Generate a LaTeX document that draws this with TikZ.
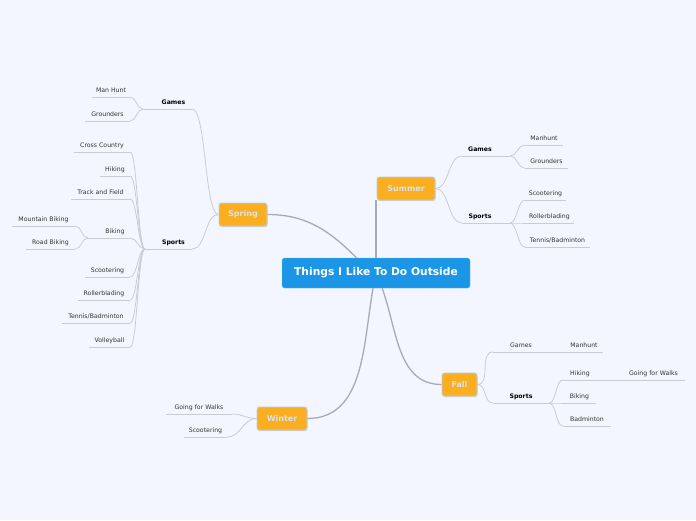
\documentclass[tikz,border=0pt]{standalone}
\usepackage{fontspec}
\setmainfont{DejaVu Sans}
\usepackage{xcolor}
\definecolor{mmback}{RGB}{243,246,254}
\definecolor{mmblue}{RGB}{27,150,230}
\definecolor{mmblueline}{RGB}{110,185,240}
\definecolor{mmorange}{RGB}{250,174,32}
\definecolor{mmorangetext}{RGB}{214,228,240}
\definecolor{mmorangeline}{RGB}{184,208,228}
\definecolor{mmline}{RGB}{200,204,213}
\definecolor{mmtrunk}{RGB}{168,171,178}
\definecolor{mmtext}{RGB}{51,51,51}
\usetikzlibrary{positioning,shadows}

\tikzset{
  centre/.style={draw=mmblueline, fill=mmblue, rounded corners=2.5pt, minimum width=188pt, minimum height=30pt, inner sep=0pt, font=\fontsize{10.7}{12}\selectfont\bfseries, text=white},
  season/.style={draw=mmorangeline, line width=0.9pt, fill=mmorange, rounded corners=2.5pt, minimum height=23pt, inner sep=0pt, font=\fontsize{8}{9}\selectfont\bfseries, text=mmorangetext, drop shadow={shadow xshift=0.5pt, shadow yshift=-1.2pt, opacity=0.3}},
  leaf/.style={anchor=south, inner xsep=0pt, inner ysep=3pt, text height=4.6pt, text depth=1.3pt, font=\fontsize{6.2}{7}\selectfont, text=mmtext},
  topic/.style={leaf, font=\fontsize{6.2}{7}\selectfont\bfseries, text=black},
  trunk/.style={draw=mmtrunk, line width=1.3pt},
  twig/.style={draw=mmline, line width=0.8pt},
  lft/.style={out=180, in=0, max distance=#1}, lft/.default=14pt,
  rgt/.style={out=0, in=180, max distance=#1}, rgt/.default=14pt,
}

\begin{document}
\begin{tikzpicture}[x=1pt, y=-1pt]
  \fill[mmback] (0,0) rectangle (696,520);
  \useasboundingbox (0,0) rectangle (696,520);

  %% Central topic
  \node[centre] (centre) at (376,273) {Things I Like To Do Outside};

  %% Spring
  \node[season, minimum width=48pt] (spring) at (243,214.5) {Spring};
  \node[topic, minimum width=37pt] (springgames) at (173.5,109) {Games};
  \node[topic, minimum width=37pt] (springsports) at (173.5,249) {Sports};
  \coordinate (springgameshub) at (143,109);
  \coordinate (springsportshub) at (145,249);
  \node[leaf, minimum width=38pt] (manhunta) at (111,97) {Man Hunt};
  \node[leaf, minimum width=45pt] (groundersa) at (107.5,121) {Grounders};
  \node[leaf, minimum width=56pt] (crosscountry) at (102,152) {Cross Country};
  \node[leaf, minimum width=30pt] (hikinga) at (115,176) {Hiking};
  \node[leaf, minimum width=59pt] (trackfield) at (100.5,199) {Track and Field};
  \node[leaf, minimum width=30pt] (bikinga) at (115,238) {Biking};
  \coordinate (bikinghub) at (88,238);
  \node[leaf, minimum width=63pt] (mountainbiking) at (43.5,226) {Mountain Biking};
  \node[leaf, minimum width=49pt] (roadbiking) at (50.5,249) {Road Biking};
  \node[leaf, minimum width=45pt] (scooteringa) at (107.5,277) {Scootering};
  \node[leaf, minimum width=52pt] (rollerbladinga) at (104,300) {Rollerblading};
  \node[leaf, minimum width=68pt] (tennisa) at (96,323) {Tennis/Badminton};
  \node[leaf, minimum width=41pt] (volleyball) at (109.5,347) {Volleyball};

  %% Summer
  \node[season, minimum width=58pt] (summer) at (406,188.5) {Summer};
  \node[topic, minimum width=36pt] (summergames) at (480,156) {Games};
  \node[topic, minimum width=36pt] (summersports) at (480,223) {Sports};
  \coordinate (summergameshub) at (510,156);
  \coordinate (summersportshub) at (510,223);
  \node[leaf, minimum width=38pt] (manhuntb) at (544,145) {Manhunt};
  \node[leaf, minimum width=43pt] (groundersb) at (546.5,168) {Grounders};
  \node[leaf, minimum width=41pt] (scooteringb) at (545.5,200) {Scootering};
  \node[leaf, minimum width=49pt] (rollerbladingb) at (549.5,223) {Rollerblading};
  \node[leaf, minimum width=65pt] (tennisb) at (557.5,247) {Tennis/Badminton};

  %% Fall
  \node[season, minimum width=35pt] (fall) at (459.5,384.5) {Fall};
  \node[leaf, minimum width=56pt] (fallgames) at (521,352) {Games};
  \node[topic, minimum width=56pt] (fallsports) at (521,403) {Sports};
  \node[leaf, minimum width=38pt] (manhuntc) at (584,352) {Manhunt};
  \node[leaf, minimum width=34pt] (hikingc) at (580,380) {Hiking};
  \node[leaf, minimum width=63pt] (walksc) at (653.5,380) {Going for Walks};
  \node[leaf, minimum width=33pt] (bikingc) at (579.5,403) {Biking};
  \node[leaf, minimum width=48pt] (badminton) at (587,426) {Badminton};

  %% Winter
  \node[season, minimum width=50pt] (winter) at (282,418.5) {Winter};
  \node[leaf, minimum width=66pt] (walksd) at (199,414) {Going for Walks};
  \node[leaf, minimum width=43pt] (scooteringd) at (205.5,437) {Scootering};

  %% Main branches
  \draw[trunk] (spring.east) to[out=0, in=135] (centre.142);
  \draw[trunk] (centre.north) -- (centre.north |- summer.south);
  \draw[trunk] (centre.-68) to[out=-70, in=180] (fall.west);
  \draw[trunk] (centre.-101) to[out=-100, in=0] (winter.east);

  %% Underlines
  \foreach \n in {springgames, springsports, manhunta, groundersa, crosscountry, hikinga, trackfield, bikinga, mountainbiking, roadbiking, scooteringa, rollerbladinga, tennisa, volleyball, summergames, summersports, manhuntb, groundersb, scooteringb, rollerbladingb, tennisb, fallgames, fallsports, manhuntc, hikingc, walksc, bikingc, badminton, walksd, scooteringd}
    \draw[twig] (\n.south west) -- (\n.south east);

  %% Spring connectors
  \draw[twig] (spring.west) to[lft] (springgames.south east);
  \draw[twig] (spring.west) to[lft] (springsports.south east);
  \draw[twig] (springgames.south west) -- (springgameshub);
  \draw[twig] (springsports.south west) -- (springsportshub);
  \foreach \n in {manhunta, groundersa}
    \draw[twig] (springgameshub) to[lft=6pt] (\n.south east);
  \foreach \n in {crosscountry, hikinga, trackfield, bikinga, scooteringa, rollerbladinga, tennisa, volleyball}
    \draw[twig] (springsportshub) to[lft=7pt] (\n.south east);
  \draw[twig] (bikinga.south west) -- (bikinghub);
  \foreach \n in {mountainbiking, roadbiking}
    \draw[twig] (bikinghub) to[lft=7pt] (\n.south east);

  %% Summer connectors
  \draw[twig] (summer.east) to[rgt] (summergames.south west);
  \draw[twig] (summer.east) to[rgt] (summersports.south west);
  \draw[twig] (summergames.south east) -- (summergameshub);
  \draw[twig] (summersports.south east) -- (summersportshub);
  \foreach \n in {manhuntb, groundersb}
    \draw[twig] (summergameshub) to[rgt=7pt] (\n.south west);
  \foreach \n in {scooteringb, rollerbladingb, tennisb}
    \draw[twig] (summersportshub) to[rgt=7pt] (\n.south west);

  %% Fall connectors
  \draw[twig] (fall.east) to[rgt] (fallgames.south west);
  \draw[twig] (fall.east) to[rgt] (fallsports.south west);
  \draw[twig] (fallgames.south east) -- (manhuntc.south west);
  \foreach \n in {hikingc, bikingc, badminton}
    \draw[twig] (fallsports.south east) to[rgt=7pt] (\n.south west);
  \draw[twig] (hikingc.south east) -- (walksc.south west);

  %% Winter connectors
  \draw[twig] (winter.west) to[lft] (walksd.south east);
  \draw[twig] (winter.west) to[lft] (scooteringd.south east);
\end{tikzpicture}
\end{document}
